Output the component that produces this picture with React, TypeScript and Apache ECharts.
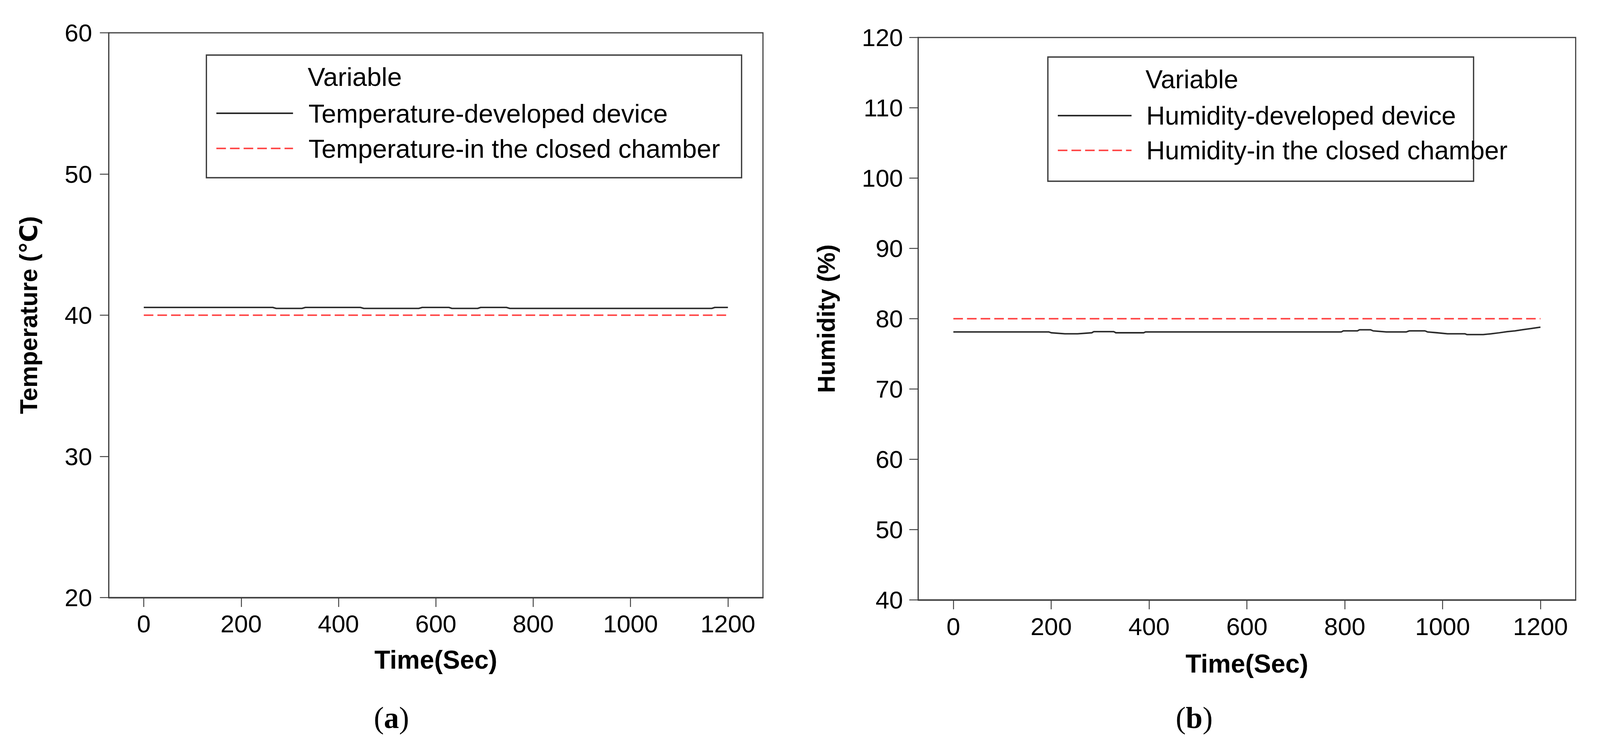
import React, { useEffect, useRef } from "react";
import * as echarts from "echarts";

const xTicks = [0, 200, 400, 600, 800, 1000, 1200];

const tempDeviceTime = [0, 265, 272, 325, 332, 445, 452, 565, 572, 627, 633, 686, 692, 745, 752, 1167, 1173, 1200];
const tempDeviceValue = [40.55, 40.55, 40.48, 40.48, 40.55, 40.55, 40.48, 40.48, 40.55, 40.55, 40.48, 40.48, 40.55, 40.55, 40.48, 40.48, 40.55, 40.55];
const tempChamberTime = [0, 1200];
const tempChamberValue = [40, 40];

const humDeviceTime = [0, 195, 200, 228, 254, 283, 287, 328, 332, 389, 393, 793, 797, 826, 830, 853, 858, 885, 926, 932, 964, 969, 989, 1010, 1046, 1050, 1083, 1099, 1116, 1132, 1148, 1165, 1181, 1200];
const humDeviceValue = [78.12, 78.12, 78.0, 77.85, 77.85, 78.0, 78.16, 78.16, 78.0, 78.0, 78.12, 78.12, 78.27, 78.27, 78.42, 78.42, 78.27, 78.12, 78.12, 78.27, 78.27, 78.12, 78.0, 77.85, 77.85, 77.74, 77.74, 77.85, 78.0, 78.16, 78.27, 78.45, 78.6, 78.8];
const humChamberTime = [0, 1200];
const humChamberValue = [80, 80];

const legendA = ["Temperature-developed device", "Temperature-in the closed chamber"];
const legendB = ["Humidity-developed device", "Humidity-in the closed chamber"];
const legendTitle = "Variable";
const xName = "Time(Sec)";
const yNameA = "Temperature (℃)";
const yNameB = "Humidity (%)";
const captions = ["a", "b"];

const FONT = "'Liberation Sans', Arial, 'DejaVu Sans', 'Noto Sans CJK SC', sans-serif";
const SERIF = "'Liberation Serif', 'Times New Roman', 'DejaVu Serif', serif";
const FRAME = "#3c3c3c";
const DEVICE = "#2a2a2a";
const CHAMBER = "#ff4a4a";

const REF_W = 4341;
const REF_H = 1910;

function zip(t: number[], v: number[]) {
  return t.map((x, i) => [x, v[i]]);
}

export default function App() {
  const ref = useRef<HTMLDivElement>(null);

  useEffect(() => {
    const el = ref.current;
    if (!el) return;
    const W = el.clientWidth || REF_W;
    const H = el.clientHeight || REF_H;
    const sx = W / REF_W;
    const sy = H / REF_H;
    const sf = Math.min(sx, sy);
    const X = (v: number) => v * sx;
    const Y = (v: number) => v * sy;
    const F = (v: number) => v * sf;

    const xAxisOf = (gridIndex: number, margin: number, nameGap: number) => ({
      type: "value",
      gridIndex,
      min: -72,
      max: 1272,
      axisLine: { show: true, onZero: false, lineStyle: { color: FRAME, width: F(3.5) } },
      axisTick: { show: true, customValues: xTicks, length: Y(24), lineStyle: { color: FRAME, width: F(2.5) } },
      axisLabel: {
        customValues: xTicks,
        margin: Y(margin),
        fontSize: F(67),
        color: "#000",
        fontFamily: FONT,
        formatter: (v: number) => String(v),
      },
      splitLine: { show: false },
      name: xName,
      nameLocation: "middle",
      nameGap: Y(nameGap),
      nameTextStyle: { fontSize: F(70), fontWeight: "bold", color: "#000", fontFamily: FONT },
    });

    const yAxisOf = (gridIndex: number, min: number, max: number, margin: number, name: string, nameGap: number) => ({
      type: "value",
      gridIndex,
      min,
      max,
      interval: 10,
      axisLine: { show: true, onZero: false, lineStyle: { color: FRAME, width: F(3) } },
      axisTick: { show: true, length: X(24), lineStyle: { color: FRAME, width: F(2.5) } },
      axisLabel: { margin: X(margin), fontSize: F(67), color: "#000", fontFamily: FONT },
      splitLine: { show: false },
      name,
      nameLocation: "middle",
      nameGap: X(nameGap),
      nameRotate: 90,
      nameTextStyle: { fontSize: F(66), fontWeight: "bold", color: "#000", fontFamily: FONT },
    });

    const lineSeries = (name: string, axis: number, data: number[][], color: string, dashed: boolean) => ({
      type: "line",
      name,
      xAxisIndex: axis,
      yAxisIndex: axis,
      data,
      symbol: "none",
      showSymbol: false,
      itemStyle: { color },
      lineStyle: { color, width: F(4), type: dashed ? [F(26), F(11)] : "solid" },
      z: 3,
    });

    const caption = (c: string, x: number) => ({
      type: "text",
      z: 5,
      x: X(x),
      y: Y(1838),
      style: {
        text: "{n|(}{b|" + c + "}{n|)}",
        align: "center",
        verticalAlign: "middle",
        fontSize: F(82),
        fontFamily: SERIF,
        fill: "#000",
        rich: {
          n: { fontSize: F(82), fontFamily: SERIF },
          b: { fontSize: F(82), fontFamily: SERIF, fontWeight: "bold" },
        },
      },
    });

    const chart = echarts.init(el, undefined, { renderer: "svg" });
    const option = {
      animation: false,
      backgroundColor: "#fff",
      grid: [
        { left: X(295), top: Y(84), width: X(1775), height: Y(1446), show: true, borderColor: FRAME, borderWidth: F(3), backgroundColor: "transparent" },
        { left: X(2491), top: Y(96), width: X(1784), height: Y(1440), show: true, borderColor: FRAME, borderWidth: F(3), backgroundColor: "transparent" },
      ],
      xAxis: [xAxisOf(0, 35, 126), xAxisOf(1, 36, 130)],
      yAxis: [yAxisOf(0, 20, 60, 45, yNameA, 184), yAxisOf(1, 40, 120, 41, yNameB, 216)],
      legend: [
        {
          data: legendA,
          orient: "vertical",
          left: X(585),
          top: Y(290) - F(35.5),
          padding: 0,
          itemWidth: X(208),
          itemHeight: F(30),
          itemGap: Y(90) - F(71),
          itemStyle: { opacity: 0 },
          lineStyle: { width: F(4) },
          selectedMode: false,
          textStyle: { fontSize: F(71), lineHeight: F(71), color: "#000", fontFamily: FONT, padding: [0, 0, 0, X(835 - 585 - 208) - 5] },
        },
        {
          data: legendB,
          orient: "vertical",
          left: X(2868),
          top: Y(296) - F(35),
          padding: 0,
          itemWidth: X(200),
          itemHeight: F(30),
          itemGap: Y(89) - F(70),
          itemStyle: { opacity: 0 },
          lineStyle: { width: F(4) },
          selectedMode: false,
          textStyle: { fontSize: F(70), lineHeight: F(70), color: "#000", fontFamily: FONT, padding: [0, 0, 0, X(3108 - 2868 - 200) - 5] },
        },
      ],
      graphic: [
        { type: "rect", z: 1, shape: { x: X(560), y: Y(141), width: X(1452), height: Y(314) }, style: { fill: "none", stroke: FRAME, lineWidth: F(3.5) } },
        { type: "rect", z: 1, shape: { x: X(2843), y: Y(146), width: X(1155), height: Y(318) }, style: { fill: "none", stroke: FRAME, lineWidth: F(3.5) } },
        { type: "text", z: 5, x: X(835), y: Y(196), style: { text: legendTitle, fontSize: F(71), fontFamily: FONT, fill: "#000", verticalAlign: "middle" } },
        { type: "text", z: 5, x: X(3108), y: Y(203), style: { text: legendTitle, fontSize: F(70), fontFamily: FONT, fill: "#000", verticalAlign: "middle" } },
        caption(captions[0], 1062),
        caption(captions[1], 3240),
      ],
      series: [
        lineSeries(legendA[0], 0, zip(tempDeviceTime, tempDeviceValue), DEVICE, false),
        lineSeries(legendA[1], 0, zip(tempChamberTime, tempChamberValue), CHAMBER, true),
        lineSeries(legendB[0], 1, zip(humDeviceTime, humDeviceValue), DEVICE, false),
        lineSeries(legendB[1], 1, zip(humChamberTime, humChamberValue), CHAMBER, true),
      ],
    };
    chart.setOption(option as any);
    return () => chart.dispose();
  }, []);

  return (
    <div
      ref={ref}
      style={{ position: "fixed", left: 0, top: 0, width: "100vw", height: "100vh", background: "#fff" }}
    />
  );
}
